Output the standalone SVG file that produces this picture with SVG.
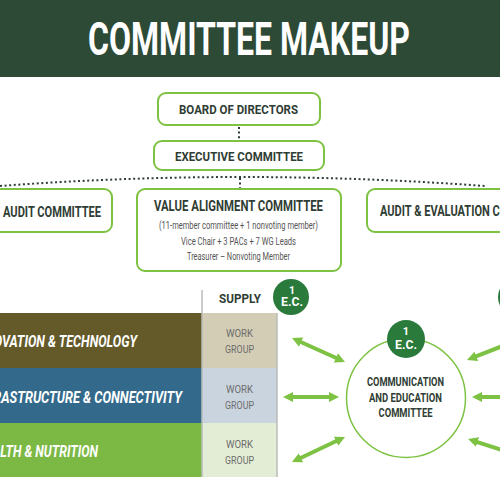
<svg xmlns="http://www.w3.org/2000/svg" width="500" height="500" viewBox="0 0 500 500">
<defs>
<style>
.t{font-family:"Roboto","Liberation Sans",sans-serif;font-weight:700;fill:#2f3d34}
.box{fill:#fff;stroke:#7dc243;stroke-width:2}
.sub{font-family:"Roboto","Liberation Sans",sans-serif;font-weight:400;fill:#555;font-size:10px}
.row{font-family:"Roboto","Liberation Sans",sans-serif;font-weight:700;font-style:italic;fill:#fff;font-size:17px}
.wg{font-family:"Roboto","Liberation Sans",sans-serif;font-weight:400;fill:#6c6c6c;font-size:10.5px}
.ec{fill:#2a7a3b}
.ect{font-family:"Roboto","Liberation Sans",sans-serif;font-weight:700;fill:#fff;text-anchor:middle}
.dot{fill:none;stroke:#2f3d34;stroke-width:2;stroke-dasharray:2 2.6}
.arr{stroke:#7dc243;stroke-width:4;fill:none}
</style>
<marker id="ah" viewBox="0 0 10 10" refX="1" refY="5" markerUnits="userSpaceOnUse" markerWidth="10" markerHeight="11" orient="auto-start-reverse">
<path d="M0,0 L10,5 L0,10 z" fill="#7dc243"/>
</marker>
</defs>
<rect width="500" height="500" fill="#fff"/>
<g id="header">
<rect x="0" y="0" width="500" height="77" fill="#2c4a36"/>
<text x="249" y="55" font-family="Roboto,'Liberation Sans',sans-serif" font-weight="700" font-size="46" fill="#fff" text-anchor="middle" textLength="322" lengthAdjust="spacingAndGlyphs">COMMITTEE MAKEUP</text>
</g>
<g id="connectors">
<path class="dot" d="M239,127 L239,140"/>
<path class="dot" d="M0,186 Q240,168 485,186"/>
<path class="dot" d="M240,178 L240,188"/>
<line class="arr" x1="300.2" y1="341.7" x2="336.8" y2="358.3" marker-start="url(#ah)" marker-end="url(#ah)"/>
<line class="arr" x1="292" y1="397" x2="330" y2="397" marker-start="url(#ah)" marker-end="url(#ah)"/>
<line class="arr" x1="300.1" y1="458.2" x2="336.9" y2="440.8" marker-start="url(#ah)" marker-end="url(#ah)"/>
<line class="arr" x1="505" y1="345" x2="475.4" y2="356.7" marker-end="url(#ah)"/>
<line class="arr" x1="505" y1="397" x2="481" y2="397" marker-end="url(#ah)"/>
<line class="arr" x1="505" y1="451" x2="476.6" y2="441.8" marker-end="url(#ah)"/>
</g>
<g id="board">
<rect class="box" x="158" y="93" width="162" height="32" rx="8"/>
<text class="t" x="238.5" y="114" font-size="13" text-anchor="middle" textLength="119" lengthAdjust="spacingAndGlyphs">BOARD OF DIRECTORS</text>
</g>
<g id="executive">
<rect class="box" x="154" y="141" width="170" height="29" rx="8"/>
<text class="t" x="239" y="161" font-size="13" text-anchor="middle" textLength="128" lengthAdjust="spacingAndGlyphs">EXECUTIVE COMMITTEE</text>
</g>
<g id="audit">
<rect class="box" x="-20" y="189" width="132" height="43" rx="8"/>
<text class="t" x="3" y="217" font-size="14.5" textLength="98" lengthAdjust="spacingAndGlyphs">AUDIT COMMITTEE</text>
</g>
<g id="value-alignment">
<rect class="box" x="137" y="189" width="204" height="82" rx="8"/>
<text class="t" x="238.5" y="211" font-size="14.5" text-anchor="middle" textLength="169" lengthAdjust="spacingAndGlyphs">VALUE ALIGNMENT COMMITTEE</text>
<text class="sub" x="238.5" y="229" text-anchor="middle" textLength="159" lengthAdjust="spacingAndGlyphs">(11-member committee + 1 nonvoting member)</text>
<text class="sub" x="238.5" y="245" text-anchor="middle" textLength="115" lengthAdjust="spacingAndGlyphs">Vice Chair + 3 PACs + 7 WG Leads</text>
<text class="sub" x="238.5" y="260" text-anchor="middle" textLength="103" lengthAdjust="spacingAndGlyphs">Treasurer – Nonvoting Member</text>
</g>
<g id="audit-evaluation">
<rect class="box" x="367" y="189" width="160" height="43" rx="8"/>
<text class="t" x="380" y="216" font-size="14.5" textLength="176" lengthAdjust="spacingAndGlyphs">AUDIT &amp; EVALUATION COMMITTEE</text>
</g>
<g id="supply-table">
<rect x="0" y="313" width="202" height="55" fill="#645a29"/>
<rect x="0" y="368" width="202" height="55" fill="#336a8c"/>
<rect x="0" y="423" width="202" height="54" fill="#7cb944"/>
<rect x="202" y="313" width="75" height="55" fill="#d3cdb5"/>
<rect x="202" y="368" width="75" height="55" fill="#cad4df"/>
<rect x="202" y="423" width="75" height="54" fill="#e3edd6"/>
<line x1="202" y1="290" x2="202" y2="477" stroke="#b8bcb8" stroke-width="1.5"/>
<line x1="277" y1="313" x2="277" y2="477" stroke="#b8bcb8" stroke-width="1.5"/>
<text class="t" x="240" y="303" font-size="12" text-anchor="middle" textLength="42" lengthAdjust="spacingAndGlyphs">SUPPLY</text>
<text class="row" x="137" y="347" text-anchor="end" textLength="164" lengthAdjust="spacingAndGlyphs">INNOVATION &amp; TECHNOLOGY</text>
<text class="row" x="182" y="403" text-anchor="end" textLength="208" lengthAdjust="spacingAndGlyphs">INFRASTRUCTURE &amp; CONNECTIVITY</text>
<text class="row" x="98" y="457" text-anchor="end" textLength="121" lengthAdjust="spacingAndGlyphs">HEALTH &amp; NUTRITION</text>
<text class="wg" x="239.5" y="337" text-anchor="middle" textLength="27" lengthAdjust="spacingAndGlyphs">WORK</text>
<text class="wg" x="239.5" y="353" text-anchor="middle" textLength="29" lengthAdjust="spacingAndGlyphs">GROUP</text>
<text class="wg" x="239.5" y="393" text-anchor="middle" textLength="27" lengthAdjust="spacingAndGlyphs">WORK</text>
<text class="wg" x="239.5" y="409" text-anchor="middle" textLength="29" lengthAdjust="spacingAndGlyphs">GROUP</text>
<text class="wg" x="239.5" y="448" text-anchor="middle" textLength="27" lengthAdjust="spacingAndGlyphs">WORK</text>
<text class="wg" x="239.5" y="464" text-anchor="middle" textLength="29" lengthAdjust="spacingAndGlyphs">GROUP</text>
</g>
<g id="ec-supply">
<circle class="ec" cx="291" cy="297" r="18"/>
<text class="ect" x="292" y="294" font-size="10.5">1</text>
<text class="ect" x="292" y="306" font-size="12" textLength="22" lengthAdjust="spacingAndGlyphs">E.C.</text>
</g>
<g id="ec-right">
<circle class="ec" cx="516" cy="297" r="18"/>
</g>
<g id="communication">
<circle cx="406" cy="398" r="59.5" fill="#fff" stroke="#7dc243" stroke-width="1.5"/>
<text class="t" x="405.5" y="386" font-size="12.5" text-anchor="middle" textLength="77" lengthAdjust="spacingAndGlyphs">COMMUNICATION</text>
<text class="t" x="405.5" y="402" font-size="12.5" text-anchor="middle" textLength="73" lengthAdjust="spacingAndGlyphs">AND EDUCATION</text>
<text class="t" x="405.5" y="417" font-size="12.5" text-anchor="middle" textLength="54" lengthAdjust="spacingAndGlyphs">COMMITTEE</text>
</g>
<g id="ec-communication">
<circle class="ec" cx="406" cy="339" r="19"/>
<text class="ect" x="406" y="334.5" font-size="11">1</text>
<text class="ect" x="406" y="349" font-size="12.5" textLength="22" lengthAdjust="spacingAndGlyphs">E.C.</text>
</g>
</svg>
